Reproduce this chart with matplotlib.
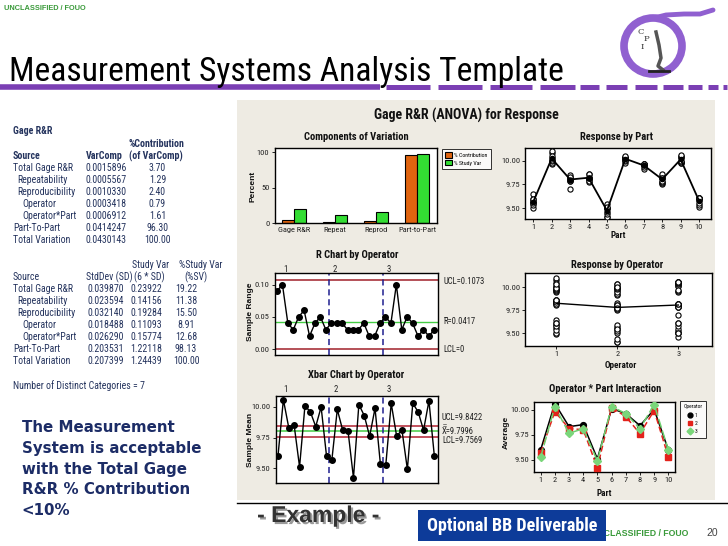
import numpy as np
import matplotlib
matplotlib.use('Agg')
import matplotlib.pyplot as plt
import matplotlib.font_manager as fm
import matplotlib.patheffects as pe
from matplotlib.patches import Rectangle, Ellipse
from matplotlib.lines import Line2D

avail = {f.name for f in fm.fontManager.ttflist}
def pick(*names):
    for n in names:
        if n in avail:
            return n
    return 'DejaVu Sans'
SANS = pick('Liberation Sans', 'Arimo', 'DejaVu Sans')
VERD = 'DejaVu Sans'

# look for a condensed / narrow face (real font files), else shrink Liberation Sans
def _is_bold(f):
    w = f.weight
    if isinstance(w, str):
        return w.lower() in ('bold', 'heavy', 'black', 'demibold', 'semibold')
    return w >= 600

def find_condensed(bold):
    prefs = ['liberationsansnarrow', 'arialn', 'robotocondensed', 'dejavusanscondensed',
             'notosanscondensed', 'opensanscondensed']
    cands = []
    for f in fm.fontManager.ttflist:
        p = f.fname.replace('\\', '/').split('/')[-1].lower().replace('-', '').replace('_', '')
        if ('narrow' in p or 'condensed' in p or 'arialn' in p) and f.style == 'normal' \
                and 'extra' not in p and 'semi' not in p and 'light' not in p \
                and 'medium' not in p and 'thin' not in p and 'black' not in p:
            if _is_bold(f) == bold:
                rank = next((i for i, k in enumerate(prefs) if p.startswith(k)), 99)
                cands.append((rank, f.fname))
    cands.sort()
    return cands[0][1] if cands else None

COND_R = find_condensed(False)
COND_B = find_condensed(True)
HAVE_COND = COND_R is not None and COND_B is not None

def fp(size, bold=False):
    if HAVE_COND:
        return fm.FontProperties(fname=COND_B if bold else COND_R, size=size)
    return fm.FontProperties(family=[SANS, 'DejaVu Sans'], size=size * 0.83,
                             weight='bold' if bold else 'normal')

plt.rcParams['font.family'] = [SANS, 'DejaVu Sans']

# ---------------- data ----------------
table_sources = ["Total Gage R&R", "Repeatability", "Reproducibility", "Operator",
                 "Operator*Part", "Part-To-Part", "Total Variation"]
varcomp = [0.0015896, 0.0005567, 0.0010330, 0.0003418, 0.0006912, 0.0414247, 0.0430143]
pct_contribution = [3.70, 1.29, 2.40, 0.79, 1.61, 96.30, 100.00]
stddev = [0.039870, 0.023594, 0.032140, 0.018488, 0.026290, 0.203531, 0.207399]
study_var = [0.23922, 0.14156, 0.19284, 0.11093, 0.15774, 1.22118, 1.24439]
pct_study_var = [19.22, 11.38, 15.50, 8.91, 12.68, 98.13, 100.00]
distinct_categories = 7

comp_categories = ["Gage R&R", "Repeat", "Reprod", "Part-to-Part"]
comp_contrib = [3.70, 1.29, 2.40, 96.30]
comp_studyvar = [19.22, 11.38, 15.50, 98.13]

parts = list(range(1, 11))
operators = [1, 2, 3]
# measurements[operator][part] = three repeat readings
op1_meas = [[9.56, 9.59, 9.65], [10.00, 10.08, 10.10], [9.81, 9.83, 9.85], [9.83, 9.86, 9.86],
            [9.49, 9.50, 9.54], [9.98, 10.01, 10.04], [9.95, 9.96, 9.97], [9.82, 9.84, 9.86],
            [9.98, 9.99, 10.03], [9.58, 9.61, 9.61]]
op2_meas = [[9.55, 9.57, 9.59], [9.96, 9.98, 10.00], [9.79, 9.81, 9.83], [9.78, 9.81, 9.81],
            [9.41, 9.41, 9.44], [10.00, 10.03, 10.03], [9.91, 9.93, 9.95], [9.75, 9.76, 9.77],
            [9.98, 9.99, 10.00], [9.51, 9.53, 9.55]]
op3_meas = [[9.50, 9.53, 9.55], [10.01, 10.03, 10.05], [9.70, 9.79, 9.80], [9.79, 9.82, 9.82],
            [9.46, 9.50, 9.51], [10.01, 10.03, 10.05], [9.95, 9.96, 9.97], [9.79, 9.82, 9.82],
            [10.04, 10.05, 10.06], [9.58, 9.61, 9.61]]

r_ucl, r_bar, r_lcl = 0.1073, 0.0417, 0.0
x_ucl, x_dbar, x_lcl = 9.8422, 9.7996, 9.7569

message_lines = ["The Measurement", "System is acceptable", "with the Total Gage",
                 "R&R % Contribution", "<10%"]

# ---------------- figure ----------------
W, H = 728, 546
fig = plt.figure(figsize=(W / 100, H / 100), dpi=100)
bg = fig.add_axes([0, 0, 1, 1])
bg.set_xlim(0, W); bg.set_ylim(H, 0); bg.axis('off'); bg.set_zorder(-1)

def rect(x0, y0, x1, y1):
    return [x0 / W, 1 - y1 / H, (x1 - x0) / W, (y1 - y0) / H]

def fx(x):
    return x / W

def fy(y):
    return 1 - y / H

GREEN_TXT = '#3A9A3A'
PURPLE = '#7B3FB4'
NAVY = '#1C2C66'
TBL = '#25345E'

# header
bg.text(4, 8, "UNCLASSIFIED / FOUO", fontsize=5.3, fontweight='bold', color=GREEN_TXT,
        family=SANS, va='center', ha='left')
bg.text(9, 81, "Measurement Systems Analysis Template", fontproperties=fp(24.2),
        color='black', va='baseline', ha='left')
bg.plot([0, 380], [86.5, 86.5], color=PURPLE, lw=4.0, solid_capstyle='butt')
for a, b in [(386, 430), (438, 482), (490, 532), (540, 575), (580, 599), (606, 627),
             (635, 657), (663, 683), (688, 702), (708, 718), (723, 727)]:
    bg.plot([a, b], [86.5, 86.5], color=PURPLE, lw=3.6, solid_capstyle='butt')

# logo
bg.add_patch(Ellipse((653, 46), 58, 56, fc='white', ec='#9060D0', lw=5.5))
bg.plot([650, 666, 684, 700, 713], [19, 15, 14, 14, 10], color='#9060D0', lw=3.5,
        solid_capstyle='round')
bg.text(641, 32, "C", fontsize=6, family='DejaVu Serif', color='#333', ha='center', va='center')
bg.text(646, 39, "P", fontsize=6, family='DejaVu Serif', color='#333', ha='center', va='center')
bg.text(642, 47, "I", fontsize=6, family='DejaVu Serif', color='#333', ha='center', va='center')
bg.plot([656, 659, 661, 658, 663], [32, 45, 58, 66, 70], color='#555', lw=2.5)
bg.plot([649, 669], [71, 71], color='#222', lw=2)

# panel
bg.add_patch(Rectangle((237, 100), 478, 400, fc='#EEEBE3', ec='none'))
bg.plot([237, 728], [503, 503], color='black', lw=1.0)
bg.text(466, 115, "Gage R&R (ANOVA) for Response", fontproperties=fp(10, True),
        ha='center', va='center', color='#111')

# ---------------- left table ----------------
indents = [0, 4, 4, 9, 9, 0, 0]
fs_t = 7.1
T = dict(color=TBL, va='center')
bg.text(13, 131, "Gage R&R", fontproperties=fp(fs_t, True), **T)
bg.text(156, 144, "%Contribution", fontproperties=fp(fs_t, True), ha='center', **T)
bg.text(13, 156, "Source", fontproperties=fp(fs_t, True), **T)
bg.text(86, 156, "VarComp", fontproperties=fp(fs_t, True), **T)
bg.text(156, 156, "(of VarComp)", fontproperties=fp(fs_t, True), ha='center', **T)
for i, (s, v, p) in enumerate(zip(table_sources, varcomp, pct_contribution)):
    y = 167.8 + i * 12.05
    bg.text(13 + indents[i], y, s, fontproperties=fp(fs_t), **T)
    bg.text(86, y, f"{v:.7f}", fontproperties=fp(fs_t), **T)
    bg.text(157.5, y, f"{p:.2f}", fontproperties=fp(fs_t), ha='center', **T)

bg.text(151, 265, "Study Var", fontproperties=fp(fs_t), ha='center', **T)
bg.text(200.5, 265, "%Study Var", fontproperties=fp(fs_t), ha='center', **T)
bg.text(13, 277, "Source", fontproperties=fp(fs_t), **T)
bg.text(86, 277, "StdDev (SD)", fontproperties=fp(fs_t), **T)
bg.text(149, 277, "(6 * SD)", fontproperties=fp(fs_t), ha='center', **T)
bg.text(196, 277, "(%SV)", fontproperties=fp(fs_t), ha='center', **T)
for i, (s, sd, sv, ps) in enumerate(zip(table_sources, stddev, study_var, pct_study_var)):
    y = 288.5 + i * 12.15
    bg.text(13 + indents[i], y, s, fontproperties=fp(fs_t), **T)
    bg.text(87, y, f"{sd:.6f}", fontproperties=fp(fs_t), **T)
    bg.text(130.5, y, f"{sv:.5f}", fontproperties=fp(fs_t), **T)
    bg.text(186, y, f"{ps:.2f}", fontproperties=fp(fs_t), ha='center', **T)
bg.text(13, 386, f"Number of Distinct Categories = {distinct_categories}",
        fontproperties=fp(fs_t), **T)

# message
for i, line in enumerate(message_lines):
    bg.text(21.5, 432.3 + i * 20.7, line, fontsize=10.8, fontweight='bold', family=VERD,
            color=NAVY, va='baseline')

# bottom
bg.text(318, 522, "- Example -", fontsize=16.5, fontweight='bold', family=SANS, color='#333333',
        ha='center', va='baseline',
        path_effects=[pe.withSimplePatchShadow(offset=(1.5, -1.5), shadow_rgbFace='#9a9a9a', alpha=1)])
bg.text(688, 533, "UNCLASSIFIED / FOUO", fontsize=6.3, fontweight='bold', family=SANS,
        color=GREEN_TXT, ha='right', va='center')
bg.add_patch(Rectangle((418, 510), 188, 31, fc='#0D3B99', ec='none', zorder=5))
bg.text(512, 526, "Optional BB Deliverable", fontproperties=fp(13, True), color='white',
        ha='center', va='center', zorder=6)
bg.text(712, 533, "20", fontsize=7.5, family=SANS, color='#444', ha='center', va='center')

# ---------------- chart helpers ----------------
def style(ax, pad=1.5):
    for s in ax.spines.values():
        s.set_linewidth(1.0); s.set_color('black')
    ax.tick_params(direction='out', length=2.5, width=0.7, colors='#222', pad=pad)
    ax.set_facecolor('white')

def fix_ticks(ax, size=6):
    for lab in ax.get_xticklabels() + ax.get_yticklabels():
        lab.set_fontproperties(fp(size))

def title(x, y, s):
    bg.text(x, y, s, fontproperties=fp(7.6, True), ha='center', va='center', color='#111')

def vlabel(x, y, s):
    bg.text(x, y, s, fontsize=6, fontweight='bold', family=SANS, rotation=90,
            ha='center', va='center', color='#111')

def hlabel(x, y, s):
    bg.text(x, y, s, fontproperties=fp(6.6, True), ha='center', va='center', color='#111')

def note(x, y, s):
    bg.text(x, y, s, fontproperties=fp(6.2), va='center', color='#222')

meas = np.array([op1_meas, op2_meas, op3_meas])  # (3 ops, 10 parts, 3 reps)
subgroups = meas.reshape(-1, 3)
xbar = subgroups.mean(axis=1)
ranges = subgroups.max(axis=1) - subgroups.min(axis=1)
idx = np.arange(1, len(xbar) + 1)

# Components of Variation
ax1 = fig.add_axes(rect(275, 148, 437, 223))
style(ax1)
xc = np.arange(len(comp_categories))
bw = 0.29
ax1.bar(xc - bw / 2, comp_contrib, bw, color='#E0640F', edgecolor='black', lw=0.8, label='% Contribution')
ax1.bar(xc + bw / 2, comp_studyvar, bw, color='#33DD33', edgecolor='black', lw=0.8, label='% Study Var')
ax1.set_xlim(-0.47, 3.48); ax1.set_ylim(0, 106)
ax1.set_yticks([0, 50, 100]); ax1.set_xticks(xc); ax1.set_xticklabels(comp_categories)
ax1.tick_params(axis='x', length=0, pad=3)
fix_ticks(ax1)
lg = ax1.legend(loc='upper left', bbox_to_anchor=(fx(442), fy(149)), bbox_transform=fig.transFigure,
                prop=fp(4.2), frameon=True, fancybox=False, edgecolor='black', borderpad=0.6,
                handlelength=1.1, handleheight=1.0, labelspacing=0.35, handletextpad=0.4,
                borderaxespad=0)
lg.get_frame().set_linewidth(0.7)
title(356, 137.5, "Components of Variation")
vlabel(253, 186, "Percent")

# Response by Part
ax2 = fig.add_axes(rect(525, 148, 711, 219))
style(ax2, pad=0.8)
for p in range(len(parts)):
    vals = meas[:, p, :].ravel()
    ax2.scatter(np.full(vals.size, parts[p]), vals, s=14, facecolors='white',
                edgecolors='black', linewidths=0.8, zorder=3)
ax2.plot(parts, meas.mean(axis=(0, 2)), color='black', lw=1.3, marker='o', ms=3, zorder=4)
ax2.set_xlim(0.55, 10.65); ax2.set_ylim(9.384, 10.134)
ax2.set_xticks(parts); ax2.set_yticks([9.5, 9.75, 10.0])
ax2.set_yticklabels(["9.50", "9.75", "10.00"])
fix_ticks(ax2)
title(617, 137.5, "Response by Part")
hlabel(618, 235, "Part")

# R chart
ax3 = fig.add_axes(rect(275, 273, 438, 355))
style(ax3)
ax3.axhline(r_ucl, color='#A0202A', lw=1.1)
ax3.axhline(r_lcl, color='#A0202A', lw=1.1)
ax3.axhline(r_bar, color='#44CC44', lw=1.0)
for v in (10.5, 20.5):
    ax3.axvline(v, color='#1F1F8F', lw=1.1, dashes=(4, 2.5))
ax3.plot(idx, ranges, color='black', lw=1.0, marker='o', ms=4, zorder=4)
ax3.set_xlim(0.63, 30.68); ax3.set_ylim(-0.0093, 0.118)
ax3.set_xticks([]); ax3.set_yticks([0.0, 0.05, 0.10])
ax3.set_yticklabels(["0.00", "0.05", "0.10"])
fix_ticks(ax3)
title(357, 255, "R Chart by Operator")
vlabel(250, 312, "Sample Range")
for x, s in [(285, "1"), (335, "2"), (389, "3")]:
    bg.text(x, 269, s, fontproperties=fp(6.2), ha='center', va='center', color='#222')
note(443, 281, f"UCL={r_ucl:.4f}")
note(443, 322, f"R={r_bar:.4f}")
bg.plot([443.5, 447], [317, 317], color='#222', lw=0.5)
note(443, 349, f"LCL={r_lcl:.0f}")

# Response by Operator
ax4 = fig.add_axes(rect(525, 273, 712, 346))
style(ax4, pad=0.8)
for o in range(len(operators)):
    vals = meas[o].ravel()
    ax4.scatter(np.full(vals.size, operators[o]), vals, s=14, facecolors='white',
                edgecolors='black', linewidths=0.8, zorder=3)
ax4.plot(operators, meas.mean(axis=(1, 2)), color='black', lw=1.0, zorder=4)
ax4.set_xlim(0.49, 3.55); ax4.set_ylim(9.365, 10.152)
ax4.set_xticks(operators); ax4.set_yticks([9.5, 9.75, 10.0])
ax4.set_yticklabels(["9.50", "9.75", "10.00"])
fix_ticks(ax4)
title(617, 264.5, "Response by Operator")
hlabel(621, 366, "Operator")

# Xbar chart
ax5 = fig.add_axes(rect(276, 396, 438, 483))
style(ax5)
ax5.axhline(x_ucl, color='#B02030', lw=1.1)
ax5.axhline(x_lcl, color='#B02030', lw=1.1)
ax5.axhline(x_dbar, color='#44CC44', lw=1.1)
for v in (10.5, 20.5):
    ax5.axvline(v, color='#1F1F8F', lw=1.1, dashes=(4, 2.5))
ax5.plot(idx, xbar, color='black', lw=1.0, marker='o', ms=4, zorder=4)
ax5.set_xlim(0.63, 30.68); ax5.set_ylim(9.378, 10.09)
ax5.set_xticks([]); ax5.set_yticks([9.5, 9.75, 10.0])
ax5.set_yticklabels(["9.50", "9.75", "10.00"])
fix_ticks(ax5)
title(356, 375, "Xbar Chart by Operator")
vlabel(250, 440, "Sample Mean")
for x, s in [(285, "1"), (335.5, "2"), (389, "3")]:
    bg.text(x, 389, s, fontproperties=fp(6.2), ha='center', va='center', color='#222')
note(442, 417.5, f"UCL={x_ucl:.4f}")
bg.plot([442.5, 446], [424.3, 424.3], color='#222', lw=0.4)
bg.plot([442.5, 446], [425.8, 425.8], color='#222', lw=0.4)
note(442, 431.7, f"X={x_dbar:.4f}")
note(442, 440.5, f"LCL={x_lcl:.4f}")

# Interaction
ax6 = fig.add_axes(rect(534, 402, 675, 472))
style(ax6, pad=0.8)
op_means = meas.mean(axis=2)
styles = [dict(color='black', ls='-', marker='o', mfc='black', mec='black', ms=4.2),
          dict(color='#E3221B', ls=(0, (4, 2)), marker='s', mfc='#E3221B', mec='#E3221B', ms=4.2),
          dict(color='#6FCF6F', ls=(0, (6, 2)), marker='D', mfc='#7AD67A', mec='#7AD67A', ms=4.2)]
for o in range(len(operators)):
    ax6.plot(parts, op_means[o], lw=1.1, zorder=3 + o, **styles[o])
ax6.set_xlim(0.53, 10.47); ax6.set_ylim(9.379, 10.075)
ax6.set_xticks(parts); ax6.set_yticks([9.5, 9.75, 10.0])
ax6.set_yticklabels(["9.50", "9.75", "10.00"])
fix_ticks(ax6)
handles = [Line2D([], [], ls='none', marker=st['marker'], mfc=st['mfc'], mec=st['mec'], ms=3.5)
           for st in styles]
leg = ax6.legend(handles, [str(o) for o in operators], title="Operator", loc='upper left',
                 bbox_to_anchor=(fx(680), fy(401)), bbox_transform=fig.transFigure,
                 prop=fp(4.0), frameon=True, fancybox=False,
                 edgecolor='black', borderpad=0.6, handlelength=0.8, labelspacing=0.6,
                 handletextpad=0.4, borderaxespad=0)
leg.get_title().set_fontproperties(fp(4.0))
leg.get_frame().set_linewidth(0.7)
title(605, 389.5, "Operator * Part Interaction")
vlabel(506, 432, "Average")
hlabel(604, 494, "Part")

fig.savefig("out.png", dpi=100)
